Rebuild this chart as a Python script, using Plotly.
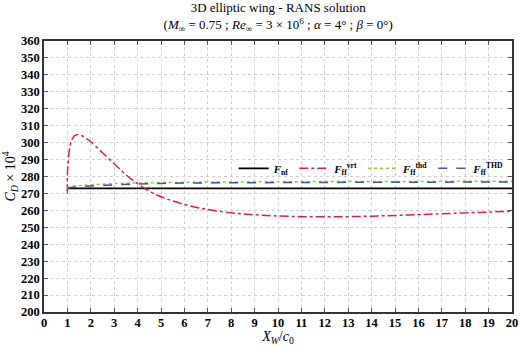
import plotly.graph_objects as go

# ---- data ----
x_nf = [1.0, 2, 4, 6, 8, 10, 12, 14, 16, 18, 20]
y_nf = [273.0, 273, 273, 273, 273, 273, 273, 273, 273, 273, 273]

x_vrt = [1.0, 1.0, 1.03, 1.07, 1.12, 1.2, 1.3, 1.45, 1.6, 1.8, 2.0, 2.5, 3.0, 3.5, 4.0, 4.5,
         5, 6, 7, 8, 9, 10, 11, 12, 13, 14, 15, 16, 17, 18, 19, 20]
y_vrt = [270.0, 281, 288, 294, 298.5, 302, 304, 304.8, 304.2, 302.5, 300.5, 294, 287.5, 281, 275.8, 271.3,
         268, 263.5, 260.5, 258.6, 257.4, 256.7, 256.3, 256.2, 256.3, 256.6, 257.0, 257.5, 258.0, 258.5, 259.0, 259.5]

x_thd = [1.0, 1.1, 1.5, 2, 3, 4, 5, 6, 8, 10, 12, 14, 16, 18, 20]
y_thd = [273.0, 274.0, 274.6, 275.1, 275.8, 276.2, 276.4, 276.6, 276.8, 276.9, 277.0, 277.1, 277.1, 277.2, 277.2]

x_THD = [1.0, 1.1, 1.5, 2, 3, 4, 5, 6, 8, 10, 12, 14, 16, 18, 20]
y_THD = [273.0, 273.4, 273.9, 274.4, 275.1, 275.6, 275.9, 276.1, 276.3, 276.4, 276.5, 276.6, 276.6, 276.7, 276.7]

x_ticks = list(range(0, 21))
y_ticks = list(range(200, 361, 10))

serif = "Liberation Serif, DejaVu Serif, serif"

fig = go.Figure()
fig.add_trace(go.Scatter(x=x_nf, y=y_nf, mode="lines", name="<b><i>F</i><sub>nf</sub></b>",
                         line=dict(color="black", width=1.8)))
fig.add_trace(go.Scatter(x=x_vrt, y=y_vrt, mode="lines", line_shape="spline",
                         name="<b><i>F</i><sub>ff</sub><sup>vrt</sup></b>",
                         line=dict(color="#dc1f3c", width=1.5, dash="dashdot")))
fig.add_trace(go.Scatter(x=x_thd, y=y_thd, mode="lines", line_shape="spline",
                         name="<b><i>F</i><sub>ff</sub><sup>thd</sup></b>",
                         line=dict(color="#8ccc3a", width=1.5, dash="dot")))
fig.add_trace(go.Scatter(x=x_THD, y=y_THD, mode="lines", line_shape="spline",
                         name="<b><i>F</i><sub>ff</sub><sup>THD</sup></b>",
                         line=dict(color="#3a5a8f", width=1.5, dash="dash")))

axis_common = dict(showline=True, linecolor="#333", linewidth=1.6, mirror="ticks",
                   ticks="inside", ticklen=4, tickcolor="#555",
                   showgrid=True, gridcolor="#cfcfcf", griddash="dot", gridwidth=1,
                   zeroline=False, automargin=False,
                   tickfont=dict(family=serif, size=12.5, color="black", weight="bold"))

fig.update_xaxes(range=[0, 20], tickvals=x_ticks, ticklabelstandoff=-2,
                 title=dict(text="<i>X</i><sub><i>W</i></sub>/<i>c</i><sub>0</sub>",
                            font=dict(family=serif, size=14, color="black"), standoff=8),
                 **axis_common)
fig.update_yaxes(range=[200, 360], tickvals=y_ticks,
                 title=dict(text="<i>C</i><sub><i>D</i></sub> × 10<sup>4</sup>",
                            font=dict(family=serif, size=14, color="black"), standoff=4),
                 **axis_common)

fig.update_layout(
    width=520, height=346,
    margin=dict(l=44, r=8, t=41, b=34),
    paper_bgcolor="white", plot_bgcolor="white",
    title=dict(text="3D elliptic wing - RANS solution<br>(<i>M</i><sub>∞</sub> = 0.75 ; <i>Re</i><sub>∞</sub> = 3 × 10<sup>6</sup> ; <i>α</i> = 4° ; <i>β</i> = 0°)",
               x=0.535, xanchor="center", y=0.965, yanchor="top",
               font=dict(family=serif, size=13, color="black")),
    legend=dict(orientation="h", x=0.995, xanchor="right", y=0.53, yanchor="middle",
                bgcolor="rgba(255,255,255,0)", font=dict(family=serif, size=11, color="black"),
                itemwidth=30, tracegroupgap=0),
    showlegend=True,
)

fig.write_html("out.html")
